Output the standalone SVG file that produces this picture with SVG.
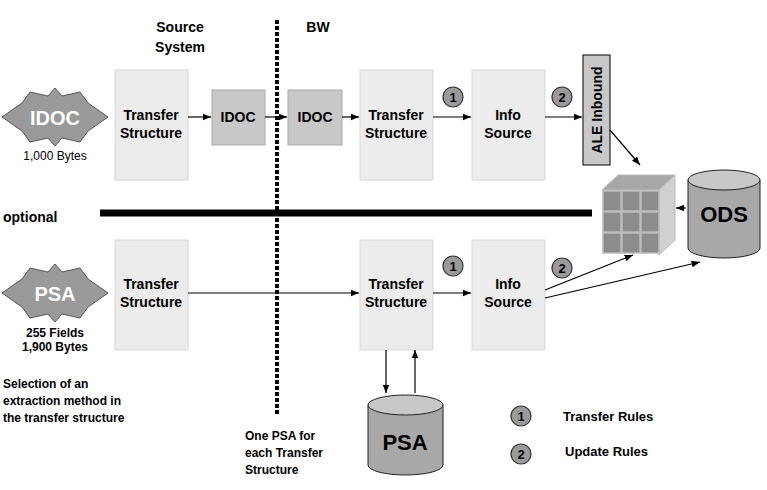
<svg xmlns="http://www.w3.org/2000/svg" width="767" height="490" viewBox="0 0 767 490">
<defs>
<style>
text{font-family:"Liberation Sans",Arial,sans-serif;font-weight:bold;fill:#000}
.t{font-size:14px;text-anchor:middle}
.s{font-size:12px}
.box{fill:#ececec;stroke:#d8d8d8}
.sm{fill:#c8c8c8;stroke:#aaa}
.ln{stroke:#000;stroke-width:1.2;fill:none;marker-end:url(#a)}
.c{fill:#9a9a9a;stroke:#333;stroke-width:1.2}
.wt{font-size:20px;fill:#fff;text-anchor:middle}
</style>
<marker id="a" viewBox="0 0 10 10" refX="10" refY="5" markerWidth="7" markerHeight="7" orient="auto"><path d="M0,1L10,5L0,9z" fill="#000"/></marker>
<g id="cu"><rect width="18" height="20" fill="#8c8c8c" stroke="#bbb" stroke-width="1.5"/></g>
</defs>
<rect width="767" height="490" fill="#fff"/>
<text x="180" y="32" class="t">Source</text><text x="180" y="52" class="t">System</text>
<text x="318" y="32" class="t">BW</text>
<line x1="277" y1="20" x2="277" y2="415" stroke="#000" stroke-width="4" stroke-dasharray="4,2"/>
<line x1="100" y1="213" x2="592" y2="213" stroke="#000" stroke-width="7"/>
<text x="3" y="222" class="s" style="font-size:14px">optional</text>
<g id="idocstar"><polygon points="2,117 22,103 30,92 48,96 55,88 62,96 80,92 88,103 108,117 88,131 80,142 62,138 55,146 48,138 30,142 22,131" fill="#9a9a9a" stroke="#555"/><text x="55" y="125" class="wt">IDOC</text><text x="55" y="160" text-anchor="middle" style="font-weight:normal;font-size:12px">1,000 Bytes</text></g>
<g id="psastar"><polygon points="2,293 22,279 30,268 48,272 55,264 62,272 80,268 88,279 108,293 88,307 80,318 62,314 55,322 48,314 30,318 22,307" fill="#9a9a9a" stroke="#555"/><text x="55" y="301" class="wt">PSA</text><text x="55" y="337" class="s" text-anchor="middle">255 Fields</text><text x="55" y="351" class="s" text-anchor="middle">1,900 Bytes</text></g>
<g id="ts1"><rect x="115" y="70" width="73" height="110" class="box"/><text x="151" y="120" class="t">Transfer</text><text x="151" y="138" class="t">Structure</text></g>
<g id="idoc1"><rect x="212" y="90" width="53" height="55" class="sm"/><text x="238" y="122" class="t">IDOC</text></g>
<g id="idoc2"><rect x="288" y="90" width="54" height="55" class="sm"/><text x="315" y="122" class="t">IDOC</text></g>
<g id="ts2"><rect x="360" y="70" width="73" height="110" class="box"/><text x="396" y="120" class="t">Transfer</text><text x="396" y="138" class="t">Structure</text></g>
<g id="is1"><rect x="472" y="70" width="73" height="110" class="box"/><text x="508" y="120" class="t">Info</text><text x="508" y="138" class="t">Source</text></g>
<g id="ale"><rect x="583" y="55" width="27" height="110" fill="#c8c8c8" stroke="#000"/><text transform="translate(602,110) rotate(-90)" class="t">ALE Inbound</text></g>
<g id="ts3"><rect x="115" y="240" width="73" height="110" class="box"/><text x="151" y="289" class="t">Transfer</text><text x="151" y="307" class="t">Structure</text></g>
<g id="ts4"><rect x="360" y="240" width="73" height="110" class="box"/><text x="396" y="289" class="t">Transfer</text><text x="396" y="307" class="t">Structure</text></g>
<g id="is2"><rect x="472" y="240" width="73" height="110" class="box"/><text x="508" y="289" class="t">Info</text><text x="508" y="307" class="t">Source</text></g>
<g id="cube">
<polygon points="602,190 618,175 675,175 659,190" fill="#a8a8a8" stroke="#bbb"/>
<polygon points="659,190 675,175 675,240 659,255" fill="#d0d0d0" stroke="#bbb"/>
<use href="#cu" x="603" y="191"/><use href="#cu" x="622" y="191"/><use href="#cu" x="641" y="191"/>
<use href="#cu" x="603" y="212"/><use href="#cu" x="622" y="212"/><use href="#cu" x="641" y="212"/>
<use href="#cu" x="603" y="233"/><use href="#cu" x="622" y="233"/><use href="#cu" x="641" y="233"/>
</g>
<g id="ods"><path d="M688,180 L688,248 A36,10 0 0 0 760,248 L760,180" fill="#a8a8a8" stroke="#222"/><ellipse cx="724" cy="180" rx="36" ry="10" fill="#c8c8c8" stroke="#222"/><text x="724" y="222" class="t" style="font-size:22px">ODS</text></g>
<g id="psa"><path d="M368,405 L368,465 A37.5,10 0 0 0 443,465 L443,405" fill="#a8a8a8" stroke="#222"/><ellipse cx="405.5" cy="405" rx="37.5" ry="10" fill="#c8c8c8" stroke="#222"/><text x="405" y="450" class="t" style="font-size:22px">PSA</text></g>
<g id="badges">
<circle cx="453" cy="97" r="10" class="c"/><text x="453" y="102" class="t" style="font-size:13px">1</text>
<circle cx="562" cy="97" r="10" class="c"/><text x="562" y="102" class="t" style="font-size:13px">2</text>
<circle cx="453" cy="266" r="10" class="c"/><text x="453" y="271" class="t" style="font-size:13px">1</text>
<circle cx="562" cy="268" r="10" class="c"/><text x="562" y="273" class="t" style="font-size:13px">2</text>
<circle cx="521" cy="416" r="10" class="c"/><text x="521" y="421" class="t" style="font-size:13px">1</text>
<circle cx="521" cy="454" r="10" class="c"/><text x="521" y="459" class="t" style="font-size:13px">2</text>
</g>
<text x="563" y="421" class="s" style="font-size:13px">Transfer Rules</text>
<text x="565" y="456" class="s" style="font-size:13px">Update Rules</text>
<text x="3" y="388" class="s">Selection of an</text><text x="3" y="405" class="s">extraction method in</text><text x="3" y="422" class="s">the transfer structure</text>
<text x="245" y="440" class="s">One PSA for</text><text x="245" y="457" class="s">each Transfer</text><text x="245" y="474" class="s">Structure</text>
<g id="connectors">
<line x1="188" y1="117" x2="211" y2="117" class="ln"/>
<line x1="265" y1="117" x2="287" y2="117" class="ln"/>
<line x1="342" y1="117" x2="359" y2="117" class="ln"/>
<line x1="433" y1="117" x2="471" y2="117" class="ln"/>
<line x1="545" y1="117" x2="582" y2="117" class="ln"/>
<line x1="610" y1="130" x2="640" y2="165" class="ln"/>
<line x1="686" y1="208" x2="676" y2="208" class="ln"/>
<line x1="188" y1="293" x2="359" y2="293" class="ln"/>
<line x1="433" y1="293" x2="471" y2="293" class="ln"/>
<line x1="545" y1="290" x2="633" y2="255" class="ln"/>
<line x1="545" y1="298" x2="700" y2="262" class="ln"/>
<line x1="386" y1="350" x2="386" y2="393" class="ln"/>
<line x1="415" y1="393" x2="415" y2="350" class="ln"/>
</g>
</svg>
